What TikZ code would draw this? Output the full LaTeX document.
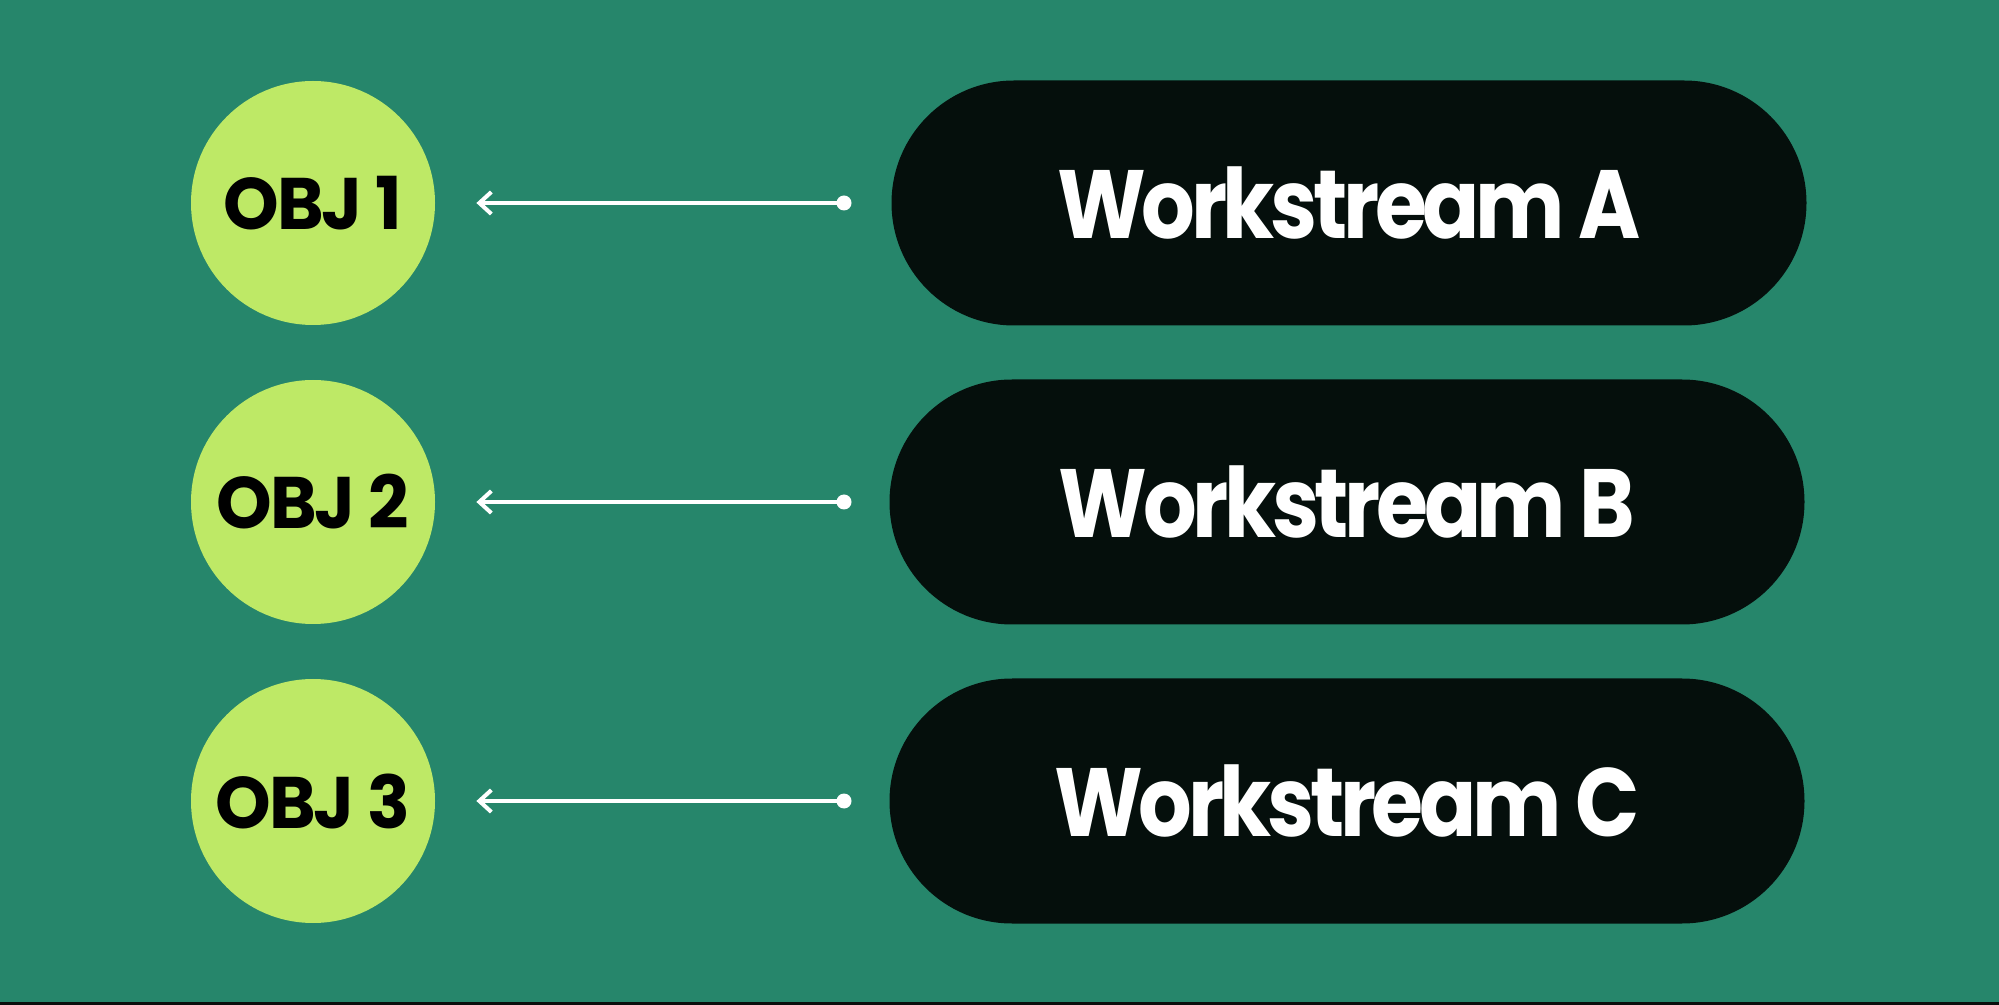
\documentclass[tikz,border=0pt]{standalone}
\usepackage{fontspec}
\setmainfont{Poppins}
\newfontfamily\wsfont{Poppins}[FakeStretch=0.87, LetterSpace=-4.5]
\newfontfamily\objfont{Poppins}[FakeStretch=0.97, LetterSpace=-3]
\usetikzlibrary{arrows.meta,shapes.misc}
\definecolor{bggreen}{HTML}{26866B}
\definecolor{lime}{HTML}{BEE966}
\definecolor{pilldark}{HTML}{050F0C}
\definecolor{edgedark}{HTML}{0A0F0D}
\tikzset{
  objnode/.style={circle, fill=lime, minimum size=122pt, inner sep=0pt,
    font=\objfont\fontsize{36.5}{40}\selectfont\bfseries, text=black},
  wsnode/.style={rounded rectangle, fill=pilldark,
    minimum width=457.5pt, minimum height=122.5pt, inner sep=0pt,
    font=\wsfont\fontsize{48.5}{54}\selectfont\bfseries, text=white},
  dotnode/.style={circle, fill=white, minimum size=7.5pt, inner sep=0pt},
  conn/.style={draw=white, line width=2pt, line cap=round, line join=round,
    -{Straight Barb[length=6pt, width=11pt, line width=2pt]}, shorten >=20.5pt}
}
\begin{document}
\begin{tikzpicture}[x=0.5pt, y=-0.5pt]
  \fill[bggreen] (0,0) rectangle (1999,1005);
  \fill[edgedark] (0,1002) rectangle (1999,1005);
  \useasboundingbox (0,0) rectangle (1999,1005);
  % objectives
  \node[objnode] (o1) at (313,203) {OBJ 1};
  \node[objnode] (o2) at (313,502) {OBJ 2};
  \node[objnode] (o3) at (313,801) {OBJ 3};
  % workstreams
  \node[wsnode] (w1) at (1349,203) {Workstream A};
  \node[wsnode] (w2) at (1347,502) {Workstream B};
  \node[wsnode] (w3) at (1347,801) {Workstream C};
  % dots
  \node[dotnode] (d1) at (844,203) {};
  \node[dotnode] (d2) at (844,502) {};
  \node[dotnode] (d3) at (844,801) {};
  % connectors
  \draw[conn] (d1.center) -- (o1);
  \draw[conn] (d2.center) -- (o2);
  \draw[conn] (d3.center) -- (o3);
\end{tikzpicture}
\end{document}
